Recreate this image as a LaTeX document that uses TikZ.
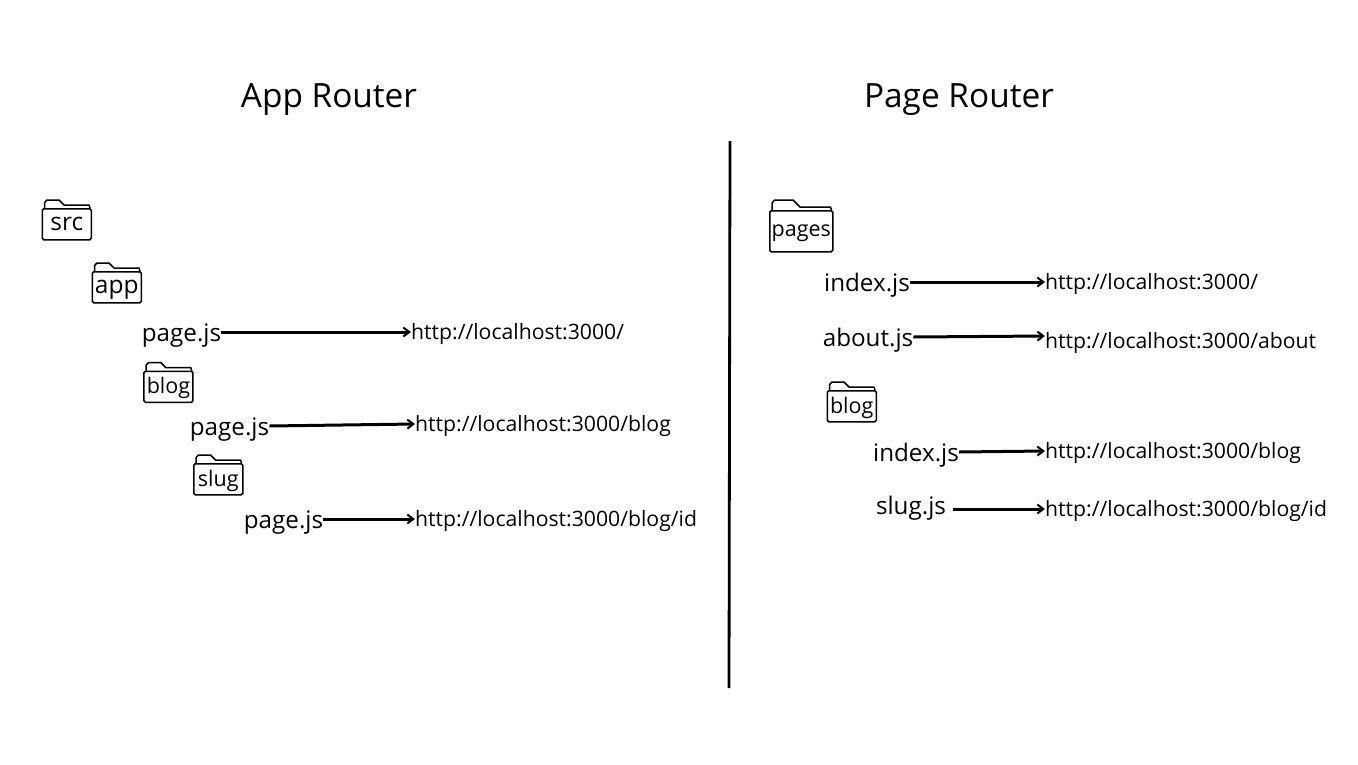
\documentclass[tikz,border=0pt]{standalone}
\usepackage{fontspec}
\setmainfont{Open Sans}
\usetikzlibrary{arrows.meta}
\tikzset{
  x=1pt,y=-1pt,
  title/.style={font=\fontsize{33.4}{36}\selectfont,inner sep=0pt,anchor=center,text height=32pt,text depth=8pt},
  filelab/.style={font=\fontsize{24.2}{26}\selectfont,inner sep=0pt,anchor=center,text height=21pt,text depth=3pt},
  urllab/.style={font=\fontsize{21.2}{24}\selectfont,inner sep=0pt,anchor=west,text height=18pt,text depth=3pt},
  folderbox/.style={draw=black,line width=1.5pt,rounded corners=1.5pt,inner sep=0pt,anchor=north west,minimum width=49pt,minimum height=31pt,font=\fontsize{24.5}{26}\selectfont,text height=16pt,text depth=4pt},
  slimfolder/.style={folderbox,font=\fontsize{21.5}{24}\selectfont,text height=16pt,text depth=2pt},
  bigfolder/.style={folderbox,minimum width=63pt,minimum height=41pt,font=\fontsize{21.5}{24}\selectfont,text height=14pt,text depth=4pt},
  tabline/.style={line width=1.5pt,line join=round,line cap=round},
  link/.style={line width=3pt,-{Straight Barb[length=6pt,width=9pt,line width=2pt]}},
  divider/.style={line width=2.8pt}
}
\newcommand{\foldertab}[1]{%
  \draw[tabline] ([xshift=3pt]#1.north west) -- ++(0,-5.5) to[out=-90,in=180] ++(2.5,-2.5) -- ++(12,0) -- ++(5,5) -- ([xshift=-3pt,yshift=3pt]#1.north east) -- ([xshift=-2pt]#1.north east);}
\newcommand{\bigtab}[1]{%
  \draw[tabline] ([xshift=3pt]#1.north west) -- ++(0,-7) to[out=-90,in=180] ++(3,-3) -- ++(18,0) -- ++(7,7) -- ([xshift=-3pt,yshift=3pt]#1.north east) -- ([xshift=-2pt]#1.north east);}
\begin{document}
\begin{tikzpicture}
\useasboundingbox (0,0) rectangle (1358,764);
\node[title] (ta) at (329,95) {App Router};
\node[title] (tp) at (959,95) {Page Router};
\coordinate (dt) at (730,141);
\coordinate (db) at (729,688);
\draw[divider] (dt) -- (db);

\node[folderbox] (src) at (41.5,208) {src};
\foldertab{src}
\node[folderbox] (app) at (91.5,271) {app};
\foldertab{app}
\node[filelab] (p1) at (181.5,332) {page.js};
\node[urllab] (u1) at (411,332) {http://localhost:3000/};
\draw[link] (p1.east) -- (u1.west);
\node[slimfolder] (blog1) at (143.2,370.5) {blog};
\foldertab{blog1}
\node[filelab] (p2) at (229.5,426) {page.js};
\node[urllab] (u2) at (415,424) {http://localhost:3000/blog};
\draw[link] (p2.east) -- (u2.west);
\node[slimfolder] (slug) at (193,463) {slug};
\foldertab{slug}
\node[filelab] (p3) at (283.5,519) {page.js};
\node[urllab] (u3) at (415,519) {http://localhost:3000/blog/id};
\draw[link] (p3.east) -- (u3.west);

\node[bigfolder] (pages) at (769,210) {pages};
\bigtab{pages}
\node[filelab] (i1) at (867,282) {index.js};
\node[urllab] (v1) at (1045,282) {http://localhost:3000/};
\draw[link] (i1.east) -- (v1.west);
\node[filelab] (a1) at (868,337) {about.js};
\node[urllab] (v2) at (1045,341) {http://localhost:3000/about};
\coordinate (v2in) at (1045,336);
\draw[link] (a1.east) -- (v2in);
\node[slimfolder] (blog2) at (826.5,390) {blog};
\foldertab{blog2}
\node[filelab] (i2) at (916,452) {index.js};
\node[urllab] (v3) at (1045,451) {http://localhost:3000/blog};
\draw[link] (i2.east) -- (v3.west);
\node[filelab] (s1) at (911,505) {slug.js};
\node[urllab] (v4) at (1045,509) {http://localhost:3000/blog/id};
\coordinate (s1end) at (953,509);
\draw[link] (s1end) -- (v4.west);
\end{tikzpicture}
\end{document}
